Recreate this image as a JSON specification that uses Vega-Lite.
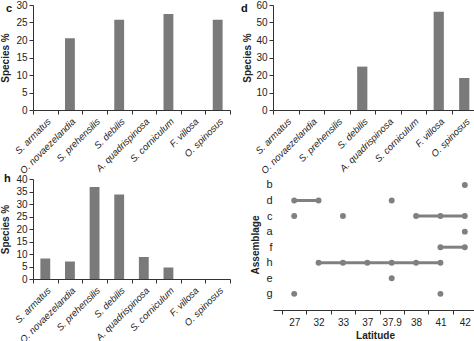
{
  "$schema": "https://vega.github.io/schema/vega-lite/v6.json",
  "padding": 0,
  "background": "white",
  "bounds": "flush",
  "columns": 2,
  "spacing": {"row": 69, "column": 43},
  "config": {
    "view": {"stroke": null},
    "font": "Liberation Sans",
    "axis": {
      "grid": false,
      "labelFont": "Liberation Sans",
      "titleFont": "Liberation Sans",
      "labelColor": "#222222",
      "titleColor": "#222222",
      "domainColor": "#333333",
      "tickColor": "#333333",
      "labelFontSize": 10,
      "titleFontSize": 10,
      "titleFontWeight": "bold"
    },
    "axisX": {"labelFont": "'Liberation Sans Narrow', 'Liberation Sans'"},
    "title": {"font": "Liberation Sans", "fontSize": 11, "fontWeight": "bold", "anchor": "start", "frame": "group", "offset": 0, "color": "#111111"}
  },
  "datasets": {
    "c": [
      {"species": "S. armatus", "pct": 0},
      {"species": "O. novaezelandia", "pct": 20.5},
      {"species": "S. prehensilis", "pct": 0},
      {"species": "S. debilis", "pct": 25.8},
      {"species": "A. quadrispinosa", "pct": 0},
      {"species": "S. corniculum", "pct": 27.4},
      {"species": "F. villosa", "pct": 0},
      {"species": "O. spinosus", "pct": 25.8}
    ],
    "d": [
      {"species": "S. armatus", "pct": 0},
      {"species": "O. novaezelandia", "pct": 0},
      {"species": "S. prehensilis", "pct": 0},
      {"species": "S. debilis", "pct": 24.8},
      {"species": "A. quadrispinosa", "pct": 0},
      {"species": "S. corniculum", "pct": 0},
      {"species": "F. villosa", "pct": 56.2},
      {"species": "O. spinosus", "pct": 18.3}
    ],
    "h": [
      {"species": "S. armatus", "pct": 8.2},
      {"species": "O. novaezelandia", "pct": 7.0},
      {"species": "S. prehensilis", "pct": 36.8},
      {"species": "S. debilis", "pct": 33.8},
      {"species": "A. quadrispinosa", "pct": 8.8},
      {"species": "S. corniculum", "pct": 4.6},
      {"species": "F. villosa", "pct": 0},
      {"species": "O. spinosus", "pct": 0}
    ],
    "lat": [
      {"assemblage": "b", "lat": "42", "seg": null},
      {"assemblage": "d", "lat": "27", "seg": "d1"},
      {"assemblage": "d", "lat": "32", "seg": "d1"},
      {"assemblage": "d", "lat": "37.9", "seg": null},
      {"assemblage": "c", "lat": "27", "seg": null},
      {"assemblage": "c", "lat": "33", "seg": null},
      {"assemblage": "c", "lat": "38", "seg": "c1"},
      {"assemblage": "c", "lat": "41", "seg": "c1"},
      {"assemblage": "c", "lat": "42", "seg": "c1"},
      {"assemblage": "a", "lat": "42", "seg": null},
      {"assemblage": "f", "lat": "41", "seg": "f1"},
      {"assemblage": "f", "lat": "42", "seg": "f1"},
      {"assemblage": "h", "lat": "32", "seg": "h1"},
      {"assemblage": "h", "lat": "33", "seg": "h1"},
      {"assemblage": "h", "lat": "37", "seg": "h1"},
      {"assemblage": "h", "lat": "37.9", "seg": "h1"},
      {"assemblage": "h", "lat": "38", "seg": "h1"},
      {"assemblage": "h", "lat": "41", "seg": "h1"},
      {"assemblage": "e", "lat": "37.9", "seg": null},
      {"assemblage": "g", "lat": "27", "seg": null},
      {"assemblage": "g", "lat": "41", "seg": null}
    ]
  },
  "concat": [
    {
      "title": {"text": "c", "dx": -27, "dy": 18},
      "width": 197,
      "height": 105,
      "data": {"name": "c"},
      "mark": {"type": "bar", "color": "#7a7a7a", "width": {"band": 0.4}},
      "encoding": {
        "x": {"field": "species", "type": "nominal", "sort": ["S. armatus", "O. novaezelandia", "S. prehensilis", "S. debilis", "A. quadrispinosa", "S. corniculum", "F. villosa", "O. spinosus"], "scale": {"paddingInner": 0, "paddingOuter": 0}, "axis": {"title": null, "labelAngle": -45, "labelFontStyle": "italic", "tickBand": "extent", "tickSize": 4, "labelFontSize": 9.5}},
        "y": {"field": "pct", "type": "quantitative", "scale": {"domain": [0, 30]}, "axis": {"title": "Species %", "values": [0, 5, 10, 15, 20, 25, 30], "tickSize": 4, "titlePadding": 5}}
      }
    },
    {
      "title": {"text": "d", "dx": -32, "dy": 18},
      "width": 204,
      "height": 105,
      "data": {"name": "d"},
      "mark": {"type": "bar", "color": "#7a7a7a", "width": {"band": 0.4}},
      "encoding": {
        "x": {"field": "species", "type": "nominal", "sort": ["S. armatus", "O. novaezelandia", "S. prehensilis", "S. debilis", "A. quadrispinosa", "S. corniculum", "F. villosa", "O. spinosus"], "scale": {"paddingInner": 0, "paddingOuter": 0}, "axis": {"title": null, "labelAngle": -45, "labelFontStyle": "italic", "tickBand": "extent", "tickSize": 4, "labelFontSize": 9.5}},
        "y": {"field": "pct", "type": "quantitative", "scale": {"domain": [0, 60]}, "axis": {"title": "Species %", "values": [0, 10, 20, 30, 40, 50, 60], "tickSize": 4, "titlePadding": 3}}
      }
    },
    {
      "title": {"text": "h", "dx": -29, "dy": 14},
      "width": 197,
      "height": 100,
      "data": {"name": "h"},
      "mark": {"type": "bar", "color": "#7a7a7a", "width": {"band": 0.4}},
      "encoding": {
        "x": {"field": "species", "type": "nominal", "sort": ["S. armatus", "O. novaezelandia", "S. prehensilis", "S. debilis", "A. quadrispinosa", "S. corniculum", "F. villosa", "O. spinosus"], "scale": {"paddingInner": 0, "paddingOuter": 0}, "axis": {"title": null, "labelAngle": -45, "labelFontStyle": "italic", "tickBand": "extent", "tickSize": 4, "labelFontSize": 9.5}},
        "y": {"field": "pct", "type": "quantitative", "scale": {"domain": [0, 40]}, "axis": {"title": "Species %", "values": [0, 5, 10, 15, 20, 25, 30, 35, 40], "tickSize": 4, "titlePadding": 5}}
      }
    },
    {
      "width": 204,
      "height": 131,
      "data": {"name": "lat"},
      "encoding": {
        "x": {"field": "lat", "type": "ordinal", "sort": ["27", "32", "33", "37", "37.9", "38", "41", "42"], "scale": {"type": "band", "paddingInner": 0, "paddingOuter": 0.185, "align": 1}, "axis": {"title": "Latitude", "labelFont": "Liberation Sans", "labelAngle": 0, "tickBand": "extent", "tickSize": 4, "labelPadding": 3, "titlePadding": 3}},
        "y": {"field": "assemblage", "type": "ordinal", "sort": ["b", "d", "c", "a", "f", "h", "e", "g"], "scale": {"type": "point", "padding": 0.71, "align": 0.27}, "axis": {"title": "Assemblage", "domain": false, "ticks": false, "labelFontSize": 11, "labelPadding": 1, "titlePadding": 5}}
      },
      "layer": [
        {"transform": [{"filter": "datum.seg != null"}], "mark": {"type": "line", "color": "#808080", "strokeWidth": 3}, "encoding": {"detail": {"field": "seg"}}},
        {"mark": {"type": "circle", "color": "#808080", "opacity": 1, "size": 35}}
      ]
    }
  ]
}
